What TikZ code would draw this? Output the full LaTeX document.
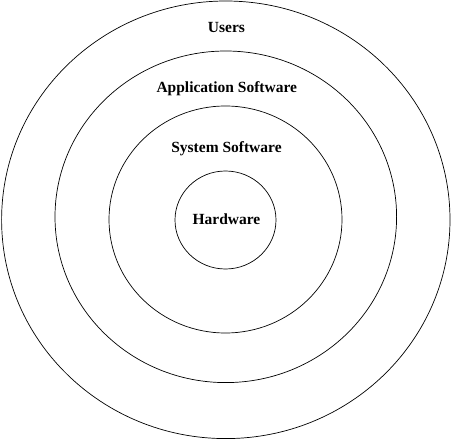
\documentclass[tikz,border=0pt]{standalone}
\usepackage{fontspec}
\setmainfont{Liberation Serif}
\begin{document}
\begin{tikzpicture}[x=1pt,y=-1pt,
  ring/.style={draw=black,line width=0.7pt},
  lbl/.style={font=\fontsize{15.5}{18}\selectfont\bfseries,anchor=base,inner sep=0pt}]
\useasboundingbox[fill=white] (0,0) rectangle (453,441);
\draw[ring] (225.8,219.8) ellipse [x radius=224.2, y radius=218.8];
\draw[ring] (225.8,216.8) ellipse [x radius=170.8, y radius=165.8];
\draw[ring] (225.5,219.5) ellipse [x radius=116.5, y radius=113.5];
\draw[ring] (225.5,220) ellipse [x radius=50.5, y radius=49];
\node[lbl] (users) at (226.5,32.7) {Users};
\node[lbl] (app) at (226.8,92.7) {Application Software};
\node[lbl] (sys) at (226.5,152.7) {System Software};
\node[lbl] (hw) at (226.5,225) {Hardware};
\end{tikzpicture}
\end{document}
